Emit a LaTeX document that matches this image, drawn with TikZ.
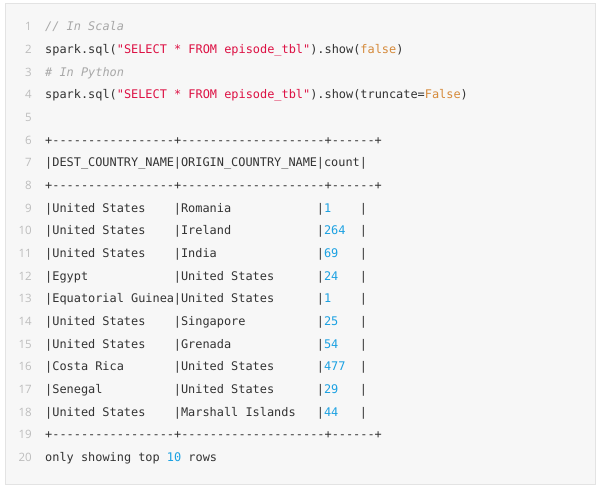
\documentclass[tikz,border=0pt]{standalone}
\usepackage{fontspec}
\setmainfont{Open Sans}
\newfontfamily\codefont{DejaVu Sans Mono}
\usepackage{xcolor}
\definecolor{panelbg}{HTML}{F7F7F7}
\definecolor{panelrule}{HTML}{E3E3E3}
\definecolor{numgray}{HTML}{BDBDBD}
\definecolor{txt}{HTML}{333333}
\definecolor{strred}{HTML}{DD1144}
\definecolor{kworange}{HTML}{D58A3B}
\definecolor{numblue}{HTML}{1BA1E2}
\definecolor{cmtgray}{HTML}{A8A8A8}
\usetikzlibrary{positioning}
\tikzset{
	lnum/.style={anchor=mid east, inner sep=0pt, font=\fontsize{11.5}{12}\selectfont, text=numgray},
	code/.style={anchor=mid west, inner sep=0pt, font=\codefont\fontsize{11.9}{12}\selectfont, text=txt}
}
\newcommand{\ypos}[1]{{488-28-22.68*(#1-1)}}
\newcommand{\xcol}[1]{{45+7.15*(#1)}}
% one numbered code line
\newcommand{\codeline}[2]{
	\node[lnum] (num#1) at (32,\ypos{#1}) {#1};
	\node[code] (line#1) at (45,\ypos{#1}) {#2};
}
% one table row
\newcommand{\tabrow}[4]{
	\node[lnum] (num#1) at (32,\ypos{#1}) {#1};
	\node[code] (barA#1) at (\xcol{0},\ypos{#1}) {|};
	\node[code] (dest#1) at (\xcol{1},\ypos{#1}) {#2};
	\node[code] (barB#1) at (\xcol{18},\ypos{#1}) {|};
	\node[code] (orig#1) at (\xcol{19},\ypos{#1}) {#3};
	\node[code] (barC#1) at (\xcol{38},\ypos{#1}) {|};
	\node[code] (cnt#1) at (\xcol{39},\ypos{#1}) {#4};
	\node[code] (barD#1) at (\xcol{44},\ypos{#1}) {|};
}
\begin{document}
\begin{tikzpicture}[x=1pt,y=1pt]
	\useasboundingbox (0,0) rectangle (600,488);
	\draw[panelrule, fill=panelbg] (5,3.5) rectangle (595,484.5);
	%
	\codeline{1}{\textcolor{cmtgray}{\itshape // In Scala}}
	\codeline{2}{spark.sql(\textcolor{strred}{"SELECT * FROM episode\_tbl"}).show(\textcolor{kworange}{false})}
	\codeline{3}{\textcolor{cmtgray}{\itshape \# In Python}}
	\codeline{4}{spark.sql(\textcolor{strred}{"SELECT * FROM episode\_tbl"}).show(truncate=\textcolor{kworange}{False})}
	\codeline{5}{}
	\codeline{6}{+-{}-{}-{}-{}-{}-{}-{}-{}-{}-{}-{}-{}-{}-{}-{}-{}-+-{}-{}-{}-{}-{}-{}-{}-{}-{}-{}-{}-{}-{}-{}-{}-{}-{}-{}-{}-+-{}-{}-{}-{}-{}-+}
	\tabrow{7}{DEST\_COUNTRY\_NAME}{ORIGIN\_COUNTRY\_NAME}{count}
	\codeline{8}{+-{}-{}-{}-{}-{}-{}-{}-{}-{}-{}-{}-{}-{}-{}-{}-{}-+-{}-{}-{}-{}-{}-{}-{}-{}-{}-{}-{}-{}-{}-{}-{}-{}-{}-{}-{}-+-{}-{}-{}-{}-{}-+}
	\tabrow{9}{United States}{Romania}{\textcolor{numblue}{1}}
	\tabrow{10}{United States}{Ireland}{\textcolor{numblue}{264}}
	\tabrow{11}{United States}{India}{\textcolor{numblue}{69}}
	\tabrow{12}{Egypt}{United States}{\textcolor{numblue}{24}}
	\tabrow{13}{Equatorial Guinea}{United States}{\textcolor{numblue}{1}}
	\tabrow{14}{United States}{Singapore}{\textcolor{numblue}{25}}
	\tabrow{15}{United States}{Grenada}{\textcolor{numblue}{54}}
	\tabrow{16}{Costa Rica}{United States}{\textcolor{numblue}{477}}
	\tabrow{17}{Senegal}{United States}{\textcolor{numblue}{29}}
	\tabrow{18}{United States}{Marshall Islands}{\textcolor{numblue}{44}}
	\codeline{19}{+-{}-{}-{}-{}-{}-{}-{}-{}-{}-{}-{}-{}-{}-{}-{}-{}-+-{}-{}-{}-{}-{}-{}-{}-{}-{}-{}-{}-{}-{}-{}-{}-{}-{}-{}-{}-+-{}-{}-{}-{}-{}-+}
	\codeline{20}{only showing top \textcolor{numblue}{10} rows}
\end{tikzpicture}
\end{document}
